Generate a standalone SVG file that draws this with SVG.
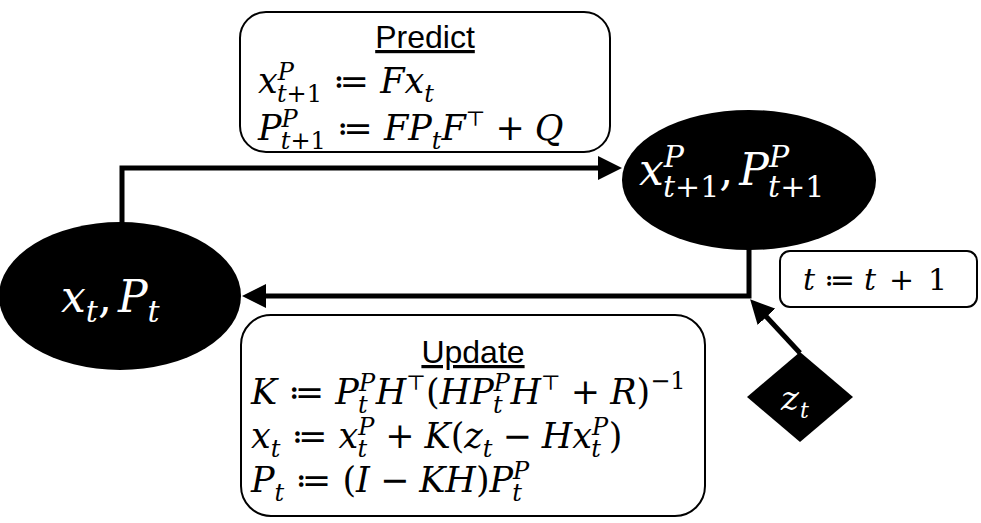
<svg xmlns="http://www.w3.org/2000/svg" width="981" height="523" viewBox="0 0 981 523">
<style>
.box{fill:#fff;stroke:#000;stroke-width:2}
.node{fill:#000;stroke:none}
.con{fill:none;stroke:#000;stroke-width:5}
.title{font-family:"Liberation Sans","DejaVu Sans",sans-serif;font-size:32px;text-anchor:middle;text-decoration:underline;fill:#000}
.m{font-family:"DejaVu Serif","DejaVu Sans",serif;font-size:35px;fill:#000}
.w{fill:#fff}
.i{font-style:italic}
.s{font-size:24px}
.tp{font-size:21px}
.big{font-size:44px}
.bs{font-size:30px}
</style>
<defs>
<marker id="ah" markerUnits="userSpaceOnUse" markerWidth="24" markerHeight="24" viewBox="0 0 24 24" refX="8" refY="12" orient="auto">
<path d="M0,0 L24,12 L0,24 z" fill="#000"/>
</marker>
</defs>
<g id="connectors">
<path class="con" d="M122,224 V168 H606" marker-end="url(#ah)"/>
<path class="con" d="M749,248 V296 H258" marker-end="url(#ah)"/>
<path class="con" d="M800,353 L761,311" marker-end="url(#ah)"/>
</g>
<g id="predict">
<rect class="box" x="240" y="12" width="370" height="140" rx="26"/>
<text class="title" x="425" y="48">Predict</text>
<text class="m" x="258" y="93"><tspan class="i">x</tspan><tspan class="i s" y="80">P</tspan><tspan class="i s" dx="-17" y="102">t</tspan><tspan class="s">+1</tspan><tspan dx="11" y="93">≔</tspan><tspan class="i" dx="11">F</tspan><tspan class="i">x</tspan><tspan class="i s" y="102">t</tspan></text>
<text class="m" x="258" y="140"><tspan class="i">P</tspan><tspan class="i s" y="127">P</tspan><tspan class="i s" dx="-17" y="149">t</tspan><tspan class="s">+1</tspan><tspan dx="11" y="140">≔</tspan><tspan class="i" dx="11">F</tspan><tspan class="i">P</tspan><tspan class="i s" y="149">t</tspan><tspan class="i" y="140">F</tspan><tspan class="tp" y="126">⊤</tspan><tspan dx="10" y="140">+</tspan><tspan class="i" dx="10">Q</tspan></text>
</g>
<g id="update">
<rect class="box" x="241" y="315" width="464" height="201" rx="30"/>
<text class="title" x="473" y="363">Update</text>
<text class="m" x="251" y="404"><tspan class="i">K</tspan><tspan dx="11">≔</tspan><tspan class="i" dx="11">P</tspan><tspan class="i s" y="391">P</tspan><tspan class="i s" dx="-17" y="413">t</tspan><tspan class="i" dx="8" y="404">H</tspan><tspan class="tp" y="390">⊤</tspan><tspan y="404">(</tspan><tspan class="i">H</tspan><tspan class="i">P</tspan><tspan class="i s" y="391">P</tspan><tspan class="i s" dx="-17" y="413">t</tspan><tspan class="i" dx="8" y="404">H</tspan><tspan class="tp" y="390">⊤</tspan><tspan dx="10" y="404">+</tspan><tspan class="i" dx="10">R</tspan><tspan>)</tspan><tspan class="s" y="389">−1</tspan></text>
<text class="m" x="251" y="448"><tspan class="i">x</tspan><tspan class="i s" y="457">t</tspan><tspan dx="11" y="448">≔</tspan><tspan class="i" dx="11">x</tspan><tspan class="i s" y="435">P</tspan><tspan class="i s" dx="-17" y="457">t</tspan><tspan dx="18" y="448">+</tspan><tspan class="i" dx="10">K</tspan><tspan>(</tspan><tspan class="i">z</tspan><tspan class="i s" y="457">t</tspan><tspan dx="10" y="448">−</tspan><tspan class="i" dx="10">H</tspan><tspan class="i">x</tspan><tspan class="i s" y="435">P</tspan><tspan class="i s" dx="-17" y="457">t</tspan><tspan dx="8" y="448">)</tspan></text>
<text class="m" x="251" y="492"><tspan class="i">P</tspan><tspan class="i s" y="501">t</tspan><tspan dx="11" y="492">≔</tspan><tspan dx="11">(</tspan><tspan class="i">I</tspan><tspan dx="10">−</tspan><tspan class="i" dx="10">K</tspan><tspan class="i">H</tspan><tspan>)</tspan><tspan class="i">P</tspan><tspan class="i s" y="479">P</tspan><tspan class="i s" dx="-17" y="501">t</tspan></text>
</g>
<g id="step">
<rect class="box" x="780" y="251" width="197" height="56" rx="10"/>
<text class="m" y="290" style="font-size:30px"><tspan class="i" x="803">t</tspan><tspan x="824">≔</tspan><tspan class="i" x="864">t</tspan><tspan x="889">+</tspan><tspan x="928">1</tspan></text>
</g>
<g id="state">
<ellipse class="node" cx="120" cy="296" rx="121" ry="74"/>
<text class="m w big" x="61" y="312"><tspan class="i">x</tspan><tspan class="i bs" y="322">t</tspan><tspan y="312">,</tspan><tspan class="i" dx="6">P</tspan><tspan class="i bs" y="322">t</tspan></text>
</g>
<g id="predicted">
<ellipse class="node" cx="749" cy="180" rx="127" ry="70"/>
<text class="m w big" x="639" y="185"><tspan class="i">x</tspan><tspan class="i bs" y="167">P</tspan><tspan class="i bs" dx="-21" y="197">t</tspan><tspan class="bs">+1</tspan><tspan y="185">,</tspan><tspan class="i" dx="6">P</tspan><tspan class="i bs" y="167">P</tspan><tspan class="i bs" dx="-21" y="197">t</tspan><tspan class="bs">+1</tspan></text>
</g>
<g id="measurement">
<polygon class="node" points="800,352 853,397 800,442 747,397"/>
<text class="m w" style="font-size:34px"><tspan class="i" x="781" y="410">z</tspan><tspan class="i" style="font-size:22px" x="800" y="418">t</tspan></text>
</g>
</svg>
